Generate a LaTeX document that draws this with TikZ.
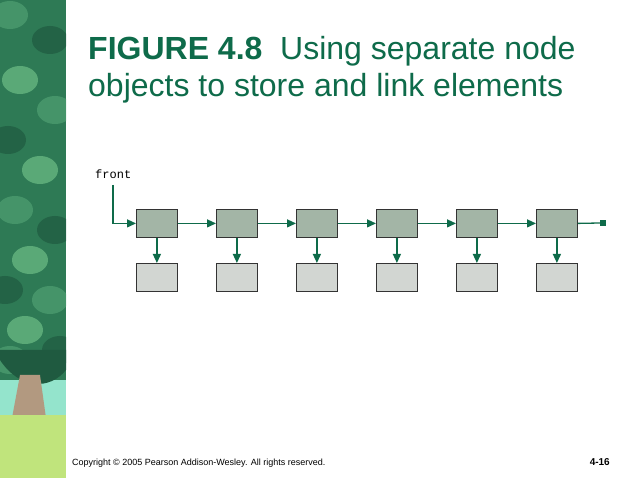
\documentclass[tikz,border=0pt]{standalone}
\usepackage{fontspec}
\setmainfont{Liberation Sans}
\setmonofont{Liberation Mono}
\usetikzlibrary{arrows.meta}
\definecolor{lg}{HTML}{0E6B4A}
\definecolor{topf}{HTML}{A3B5A6}
\definecolor{botf}{HTML}{D2D6D2}
\definecolor{tr1}{HTML}{2E7A55}
\definecolor{tr2}{HTML}{4FA072}
\definecolor{tr3}{HTML}{6DBE86}
\definecolor{tr4}{HTML}{1F5A40}
\begin{document}
\begin{tikzpicture}[x=1pt,y=-1pt,
  topbox/.style={draw=black!80,fill=topf,minimum width=41pt,minimum height=28pt,inner sep=0pt,anchor=north west,line width=0.8pt},
  botbox/.style={draw=black!80,fill=botf,minimum width=41pt,minimum height=28pt,inner sep=0pt,anchor=north west,line width=0.8pt},
  link/.style={draw=lg,line width=1.3pt,-{Triangle[length=9pt,width=8pt]}}]
\useasboundingbox (0,0) rectangle (638,478);
\fill[white] (0,0) rectangle (638,478);
% tree strip
\begin{scope}
\clip (0,0) rectangle (66,478);
\fill[tr1] (0,0) rectangle (66,420);
\foreach \xx/\yy/\c in {10/15/tr2,50/40/tr4,20/80/tr3,55/110/tr2,8/140/tr4,40/170/tr3,15/210/tr2,55/230/tr4,30/260/tr3,5/290/tr4,50/300/tr2,25/330/tr3,60/350/tr4,10/360/tr2}{
  \fill[\c,opacity=0.7] (\xx,\yy) ellipse (18 and 14);}
\fill[tr3!70!cyan!60] (0,380) rectangle (66,420);
\fill[tr4] (0,360) .. controls (20,390) and (50,390) .. (66,370) -- (66,350) -- (0,350) -- cycle;
\fill[brown!50!gray!80] (20,375) -- (40,375) -- (46,418) -- (12,418) -- cycle;
\fill[yellow!55!green!55] (0,415) rectangle (66,478);
\end{scope}
% title
\node[anchor=base west,inner sep=0pt,font=\fontsize{32}{36}\selectfont,text=lg] (t1) at (88,60) {\textbf{FIGURE 4.8}\ \ Using separate node};
\node[anchor=base west,inner sep=0pt,font=\fontsize{32}{36}\selectfont,text=lg] (t2) at (88,97) {objects to store and link elements};
% diagram
\node[anchor=base west,inner sep=0pt,font=\ttfamily\fontsize{12}{14}\selectfont] (front) at (95,179) {front};
\foreach \i in {0,...,5}{
  \node[topbox] (n\i) at (136+80*\i,209) {};
  \node[botbox] (e\i) at (136+80*\i,263) {};
  \draw[link] (n\i.south) -- (e\i.north);
}
\foreach \i/\j in {0/1,1/2,2/3,3/4,4/5}{\draw[link] (n\i.east) -- (n\j.west);}
\coordinate (fc) at (113,185);
\draw[link] (fc) |- (n0.west);
\node[fill=lg,minimum size=6pt,inner sep=0pt] (nul) at (603,223) {};
\draw[lg,line width=1.3pt] (n5.east) -- (nul.west);
% footer
\node[anchor=base west,inner sep=0pt,font=\fontsize{9}{11}\selectfont] (copy) at (72,466) {Copyright © 2005 Pearson Addison-Wesley. All rights reserved.};
\node[anchor=base east,inner sep=0pt,font=\bfseries\fontsize{10}{12}\selectfont] (pg) at (610,466) {4-16};
\end{tikzpicture}
\end{document}
